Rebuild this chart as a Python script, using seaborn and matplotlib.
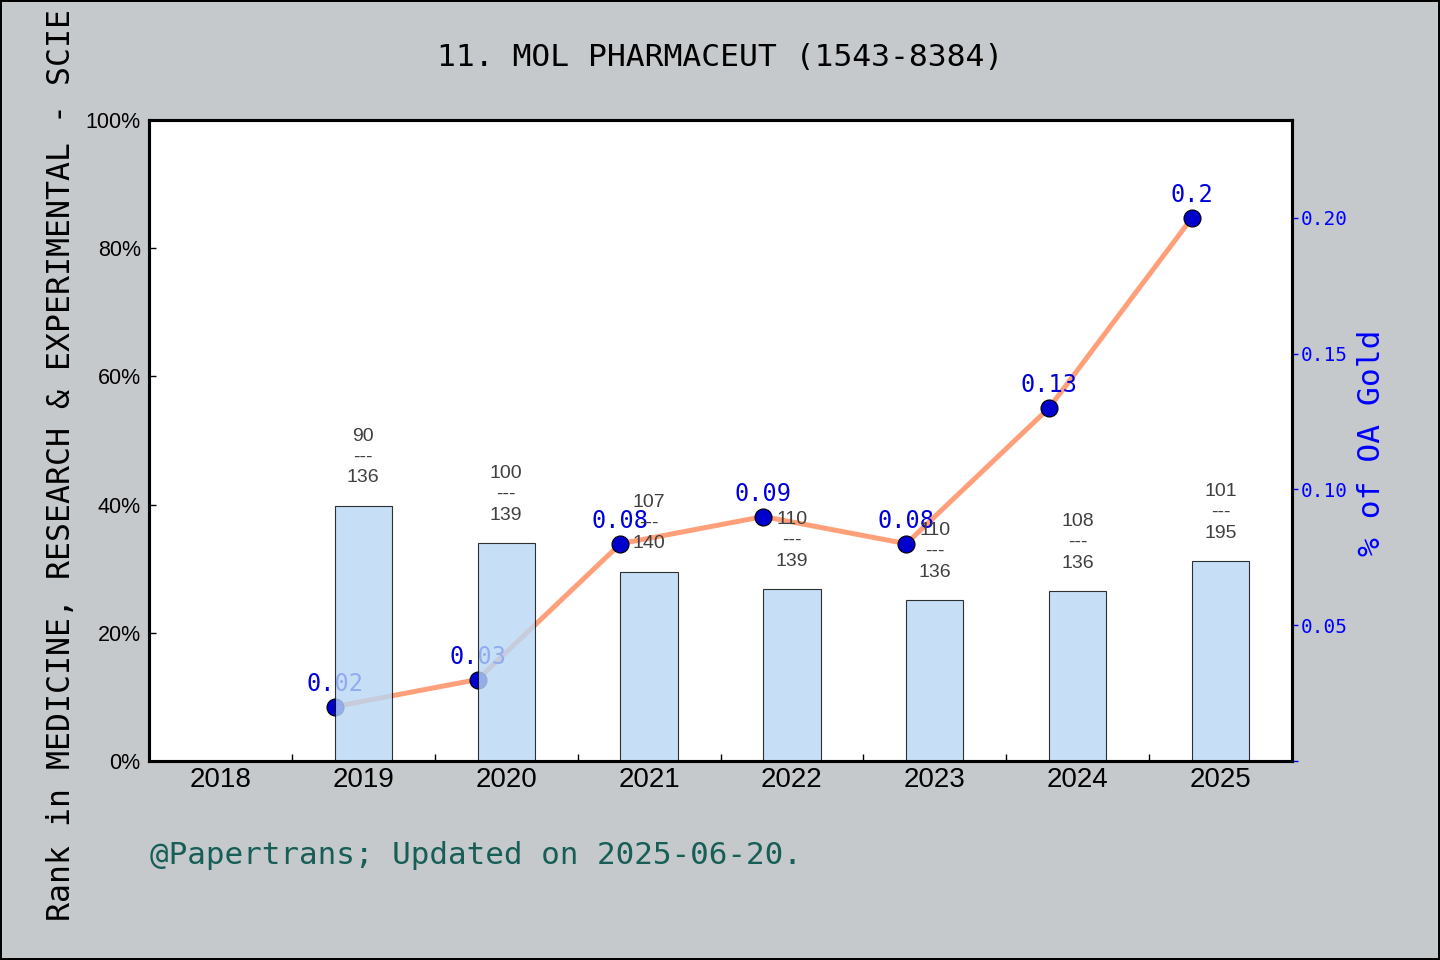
import numpy as np
import pandas as pd
import matplotlib
matplotlib.use('Agg')
import matplotlib.pyplot as plt
from matplotlib import font_manager
from matplotlib.ticker import FixedLocator, FuncFormatter, PercentFormatter
import seaborn as sns

# ---------------- data ----------------
years = ['2018', '2019', '2020', '2021', '2022', '2023', '2024', '2025']
bar_years = ['2019', '2020', '2021', '2022', '2023', '2024', '2025']
rank_pct = [39.8, 34.0, 29.5, 26.8, 25.1, 26.5, 31.2]
rank_num = [90, 100, 107, 110, 110, 108, 101]
rank_den = [136, 139, 140, 139, 136, 136, 195]
oa_years = ['2019', '2020', '2021', '2022', '2023', '2024', '2025']
oa_gold = [0.02, 0.03, 0.08, 0.09, 0.08, 0.13, 0.2]

title = '11. MOL PHARMACEUT (1543-8384)'
left_label = 'Rank in MEDICINE, RESEARCH & EXPERIMENTAL - SCIE'
right_label = '% of OA Gold'
footer = '@Papertrans; Updated on 2025-06-20.'
pct_ticks = [0, 20, 40, 60, 80, 100]
oa_ticks = [0, 0.05, 0.10, 0.15, 0.20]

# ---------------- style ----------------
BAR_WIDTH = 0.4
LINE_SHIFT = -BAR_WIDTH / 2   # line points sit at the left edge of each bar

sns.set_theme(style='white')
plt.rcParams['font.family'] = ['DejaVu Sans Mono', 'DejaVu Sans']
available = {f.name for f in font_manager.fontManager.ttflist}
narrow = 'Liberation Sans Narrow' if 'Liberation Sans Narrow' in available else 'Liberation Sans'
sans = 'Liberation Sans' if 'Liberation Sans' in available else 'DejaVu Sans'
mono = 'DejaVu Sans Mono'

BG = '#c6c9cc'
fig = plt.figure(figsize=(14.4, 9.6), dpi=100, facecolor=BG, edgecolor='black', linewidth=1.5)

W, H = 1440, 960
ax_line = fig.add_axes([149 / W, 1 - 761 / H, (1292 - 149) / W, (761 - 120) / H])
ax_line.set_facecolor('white')

# ---------------- line (right axis) ----------------
df_line = pd.DataFrame({'pos': [years.index(y) + LINE_SHIFT for y in oa_years], 'val': oa_gold})
sns.lineplot(data=df_line, x='pos', y='val', ax=ax_line, color='#ffa07a', linewidth=3.6, zorder=2)
sns.scatterplot(data=df_line, x='pos', y='val', ax=ax_line, color='#0000cd', s=150,
                edgecolor='black', linewidth=0.8, zorder=3)
for p, v in zip(df_line['pos'], df_line['val']):
    ax_line.annotate(str(v), (p, v), xytext=(0, 11.5), textcoords='offset points',
                     ha='center', va='baseline', fontsize=17, color='#0000dd', family=mono, zorder=4)

ax_line.set_ylim(0, max(oa_gold) * 1.18)

# ---------------- bars (left axis, drawn on top) ----------------
ax_bar = ax_line.twinx()
df_bar = pd.DataFrame({'year': bar_years, 'pct': rank_pct})
sns.barplot(data=df_bar, x='year', y='pct', order=years, ax=ax_bar, color='#b8d8f5', alpha=0.8,
            saturation=1, width=BAR_WIDTH, edgecolor='black', linewidth=0.8, errorbar=None)
for yr, h, n, d in zip(bar_years, rank_pct, rank_num, rank_den):
    ax_bar.annotate(f'{n}\n---\n{d}', (years.index(yr), h), xytext=(0, 14), textcoords='offset points',
                    ha='center', va='bottom', fontsize=14, color='#404040', family=sans, linespacing=1.3)

# right axis ticks (line)
ax_line.yaxis.tick_right()
ax_line.yaxis.set_label_position('right')
ax_line.yaxis.set_major_locator(FixedLocator(oa_ticks))
ax_line.yaxis.set_major_formatter(FuncFormatter(lambda v, _: '' if abs(v) < 1e-9 else f'{v:.2f}'))
ax_line.tick_params(axis='y', which='major', colors='blue', direction='out', length=4, width=1,
                    labelsize=14, pad=2, labelfontfamily=mono,
                    left=False, labelleft=False, right=True, labelright=True)

# left axis ticks (bars)
ax_bar.yaxis.tick_left()
ax_bar.yaxis.set_label_position('left')
ax_bar.set_ylim(0, 100)
ax_bar.yaxis.set_major_locator(FixedLocator(pct_ticks))
ax_bar.yaxis.set_major_formatter(PercentFormatter(decimals=0))
ax_bar.tick_params(axis='y', which='major', colors='black', direction='in', length=5, width=1,
                   labelsize=15.5, pad=6, labelfontfamily=narrow,
                   left=True, labelleft=True, right=False, labelright=False)

# ---------------- x axis ----------------
ax_line.set_xlim(-0.5, len(years) - 0.5)
ax_line.xaxis.set_major_locator(FixedLocator(list(range(len(years)))))
ax_line.xaxis.set_major_formatter(FuncFormatter(lambda v, _: years[int(round(v))] if 0 <= round(v) < len(years) else ''))
ax_line.xaxis.set_minor_locator(FixedLocator([i + 0.5 for i in range(len(years) - 1)]))
ax_line.tick_params(axis='x', which='major', length=0, labelsize=20, pad=4, labelfontfamily=sans, colors='black', bottom=True)
ax_line.tick_params(axis='x', which='minor', direction='in', length=5, width=1, color='black', bottom=True)

for ax in (ax_line, ax_bar):
    ax.set_xlabel('')
    ax.set_ylabel('')
    ax.grid(False)
    for s in ax.spines.values():
        s.set_visible(True)
        s.set_linewidth(2.2)
        s.set_color('black')

# ---------------- texts ----------------
fig.text(0.5, 1 - 57 / H, title, ha='center', va='center', fontsize=22.6, family=mono, color='black')
fig.text(62 / W, 1 - 465 / H, left_label, ha='center', va='center', rotation=90, fontsize=22.7,
         family=mono, color='black')
fig.text(1372 / W, 1 - 443 / H, right_label, ha='center', va='center', rotation=90, fontsize=22.5,
         family=mono, color='blue')
fig.text(150 / W, 1 - 855 / H, footer, ha='left', va='center', fontsize=22.3, family=mono, color='#165e56')

fig.savefig('out.png', dpi=100, facecolor=BG, edgecolor='black')
